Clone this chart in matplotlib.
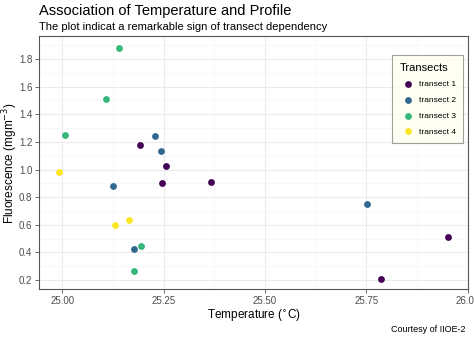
import matplotlib.pyplot as plt
from matplotlib.ticker import MultipleLocator

plt.rcParams['font.family'] = ['Liberation Sans', 'DejaVu Sans']

# temperature (degC) and fluorescence (mg m^-3) per transect
temp_t1 = [25.192, 25.256, 25.245, 25.366, 25.786, 25.951]
fluo_t1 = [1.177, 1.027, 0.904, 0.909, 0.207, 0.511]
temp_t2 = [25.228, 25.244, 25.126, 25.177, 25.751]
fluo_t2 = [1.242, 1.131, 0.878, 0.422, 0.748]
temp_t3 = [25.139, 25.107, 25.006, 25.194, 25.177]
fluo_t3 = [1.878, 1.507, 1.247, 0.446, 0.267]
temp_t4 = [24.991, 25.164, 25.129]
fluo_t4 = [0.981, 0.632, 0.600]

labels = ['transect 1', 'transect 2', 'transect 3', 'transect 4']
colors = ['#440154', '#31688E', '#35B779', '#FDE725']

fig = plt.figure(figsize=(4.74, 3.38), dpi=100)
ax = fig.add_axes([0.083, 0.144, 0.904, 0.749])

series = [(temp_t1, fluo_t1), (temp_t2, fluo_t2), (temp_t3, fluo_t3), (temp_t4, fluo_t4)]
for (x, y), lab, c in zip(series, labels, colors):
    ax.scatter(x, y, s=24, color=c, label=lab, zorder=3, linewidths=0)

ax.set_xlim(24.943, 26.0005)
ax.set_ylim(0.133, 1.965)
ax.xaxis.set_major_locator(MultipleLocator(0.25))
ax.xaxis.set_minor_locator(MultipleLocator(0.125))
ax.yaxis.set_major_locator(MultipleLocator(0.2))
ax.yaxis.set_minor_locator(MultipleLocator(0.1))
ax.xaxis.set_major_formatter(lambda v, p: f'{v:.2f}')
ax.yaxis.set_major_formatter(lambda v, p: f'{v:.1f}')

ax.grid(which='major', color='#EBEBEB', linewidth=0.8)
ax.grid(which='minor', color='#F4F4F4', linewidth=0.5)
ax.set_axisbelow(True)
ax.tick_params(which='major', length=3, width=0.6, color='#555555',
               labelsize=7, labelcolor='#4D4D4D', pad=2)
ax.tick_params(which='minor', length=0)
for sp in ax.spines.values():
    sp.set_color('#555555')
    sp.set_linewidth(0.8)

ax.set_xlabel('Temperature ($^{\\circ}$C)', fontsize=8.5, labelpad=1)
ax.set_ylabel('Fluorescence (mgm$^{-3}$)', fontsize=8.5)
ax.yaxis.set_label_coords(-0.046, 0.5)

fig.text(0.083, 0.955, 'Association of Temperature and Profile', fontsize=10.5, va='baseline')
fig.text(0.083, 0.912, 'The plot indicat a remarkable sign of transect dependency', fontsize=8, va='baseline')
fig.text(0.982, 0.018, 'Courtesy of IIOE-2', fontsize=6.5, ha='right', va='baseline')

leg = ax.legend(loc='upper left', bbox_to_anchor=(0.823, 0.925), borderaxespad=0,
                title='Transects', fontsize=6, title_fontsize=8, frameon=True,
                fancybox=False, markerscale=1.0, handletextpad=0.3,
                labelspacing=0.95, borderpad=0.9)
leg.get_frame().set_facecolor('#FFFFF0')
leg.get_frame().set_edgecolor('#888888')
leg.get_frame().set_linewidth(0.8)
leg._legend_box.align = 'left'

fig.savefig('out.png', dpi=100)
